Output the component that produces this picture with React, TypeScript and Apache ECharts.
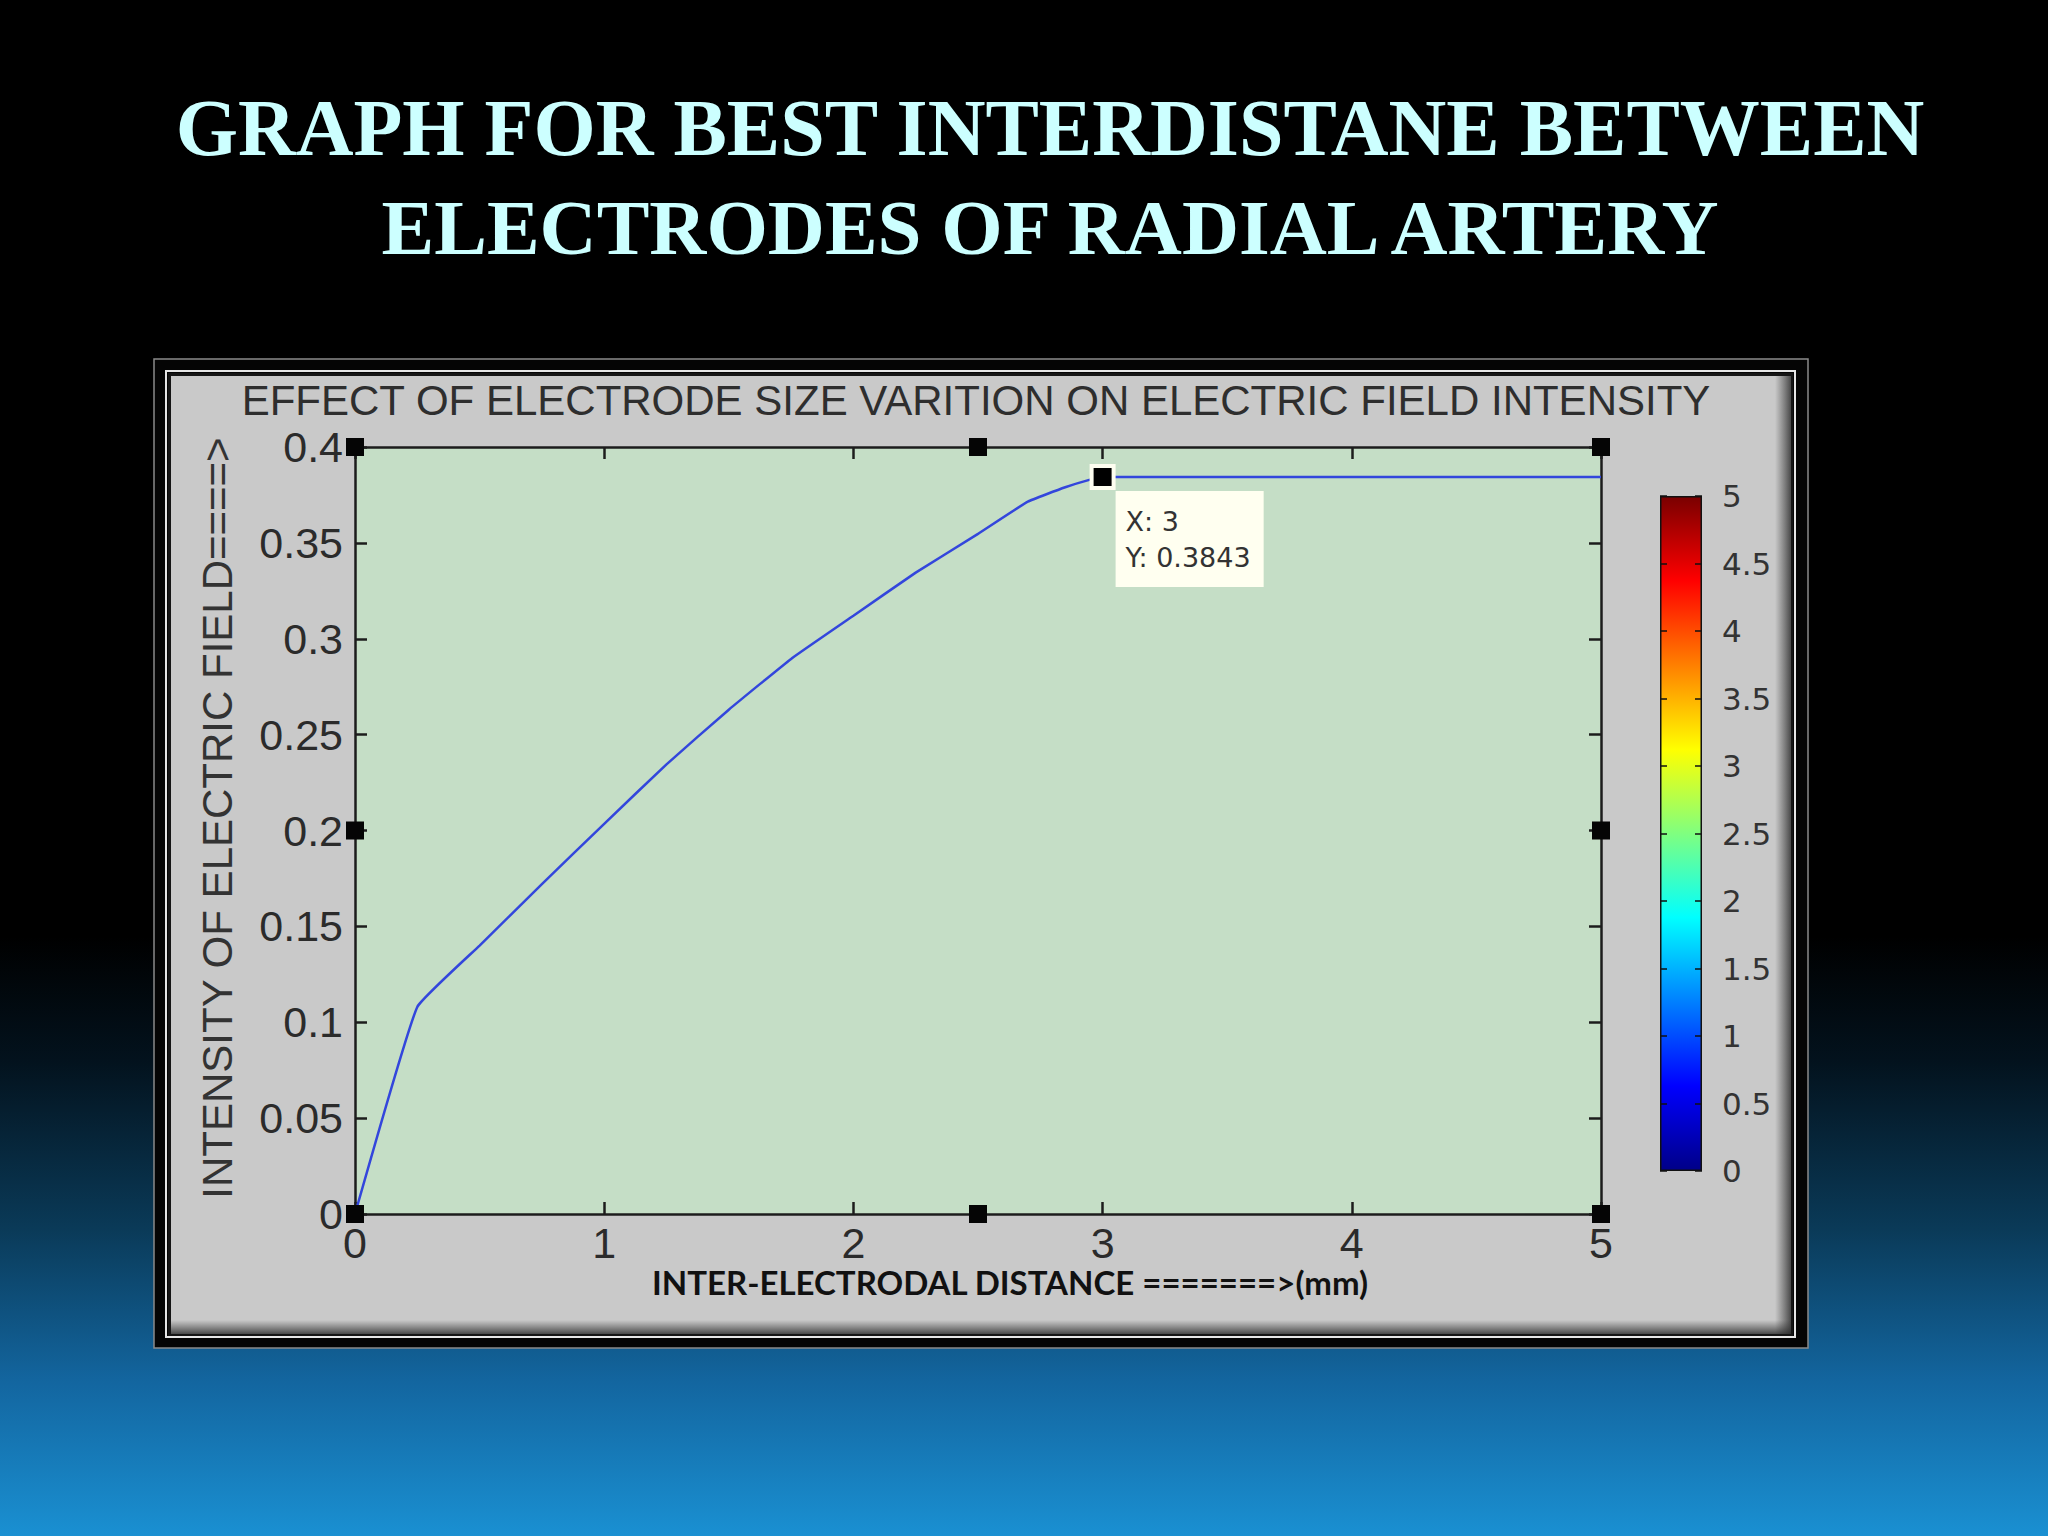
import React, { useEffect, useRef } from "react";
import * as echarts from "echarts";

// ---- data ----
const distanceMm = [0, 0.25, 0.5, 0.75, 1, 1.25, 1.5, 1.75, 2, 2.25, 2.5, 2.7, 2.85, 2.95, 3, 4, 5];
const fieldIntensity = [0, 0.108, 0.14, 0.172, 0.2035, 0.2345, 0.263, 0.2895, 0.312, 0.3345, 0.3547, 0.3715, 0.379, 0.383, 0.3843, 0.3843, 0.3843];
const cursorPoint = [3, 0.3843];
const handlePoints = [
  [0, 0.4], [2.5, 0.4], [5, 0.4],
  [0, 0.2], [5, 0.2],
  [0, 0], [2.5, 0], [5, 0],
];
const colorbarMax = [5];
const jetStops = [
  { offset: 0, color: "#000088" },
  { offset: 0.125, color: "#0000ff" },
  { offset: 0.375, color: "#00ffff" },
  { offset: 0.625, color: "#ffff00" },
  { offset: 0.875, color: "#ff0000" },
  { offset: 1, color: "#7a0000" },
];
const slideTitle = ["GRAPH FOR BEST INTERDISTANE BETWEEN", "ELECTRODES OF RADIAL ARTERY"];
const chartTitle = "EFFECT OF ELECTRODE SIZE VARITION ON ELECTRIC FIELD INTENSITY";
const yName = "INTENSITY OF ELECTRIC FIELD====>";
const xName = "INTER-ELECTRODAL DISTANCE =======>(mm)";

export default function App() {
  const ref = useRef<HTMLDivElement>(null);
  useEffect(() => {
    if (!ref.current) return;
    const chart = echarts.init(ref.current, undefined, { renderer: "svg" });
    const axisCol = "#1c1c1c";
    const labelCol = "#2b2b2b";
    const sans = "Liberation Sans";
    const mainAxisLine = { show: true, onZero: false, lineStyle: { color: axisCol, width: 2.5 } };
    const mainTick = { show: true, inside: true, length: 12, lineStyle: { color: axisCol, width: 2.5 } };
    const cbTick = { show: true, inside: true, length: 7, lineStyle: { color: "#111", width: 1.5 } };

    const option: any = {
      animation: false,
      title: {
        text: chartTitle,
        left: 971,
        top: 374,
        textAlign: "center",
        textStyle: { fontSize: 42, fontWeight: "normal", color: "#2e2e2e", fontFamily: sans },
      },
      grid: [
        { left: 355, top: 447, width: 1246, height: 767, show: true, backgroundColor: "#c5dec6", borderWidth: 0 },
        { left: 1660, top: 496, width: 42, height: 675 },
      ],
      xAxis: [
        {
          gridIndex: 0, type: "value", min: 0, max: 5, interval: 1, position: "bottom",
          axisLine: mainAxisLine, axisTick: mainTick, splitLine: { show: false },
          axisLabel: { fontSize: 43, color: labelCol, margin: 7, fontFamily: sans },
        },
        {
          gridIndex: 0, type: "value", min: 0, max: 5, interval: 1, position: "top",
          axisLine: mainAxisLine, axisTick: mainTick, splitLine: { show: false }, axisLabel: { show: false },
        },
        { gridIndex: 1, type: "category", data: ["colorbar"], show: false },
      ],
      yAxis: [
        {
          gridIndex: 0, type: "value", min: 0, max: 0.4, interval: 0.05, position: "left",
          axisLine: mainAxisLine, axisTick: mainTick, splitLine: { show: false },
          axisLabel: { fontSize: 43, color: labelCol, margin: 12, fontFamily: sans },
        },
        {
          gridIndex: 0, type: "value", min: 0, max: 0.4, interval: 0.05, position: "right",
          axisLine: mainAxisLine, axisTick: mainTick, splitLine: { show: false }, axisLabel: { show: false },
        },
        {
          gridIndex: 1, type: "value", min: 0, max: 5, interval: 0.5, position: "right", z: 5,
          axisLine: { show: false, onZero: false }, axisTick: cbTick, splitLine: { show: false },
          axisLabel: { fontSize: 31, color: "#333", margin: 20, fontFamily: "DejaVu Sans" },
        },
        {
          gridIndex: 1, type: "value", min: 0, max: 5, interval: 0.5, position: "left", z: 5,
          axisLine: { show: false, onZero: false }, axisTick: cbTick, splitLine: { show: false }, axisLabel: { show: false },
        },
      ],
      series: [
        {
          type: "line",
          xAxisIndex: 0, yAxisIndex: 0,
          data: distanceMm.map((d, i) => [d, fieldIntensity[i]]),
          showSymbol: false, symbol: "none",
          smooth: 0.1,
          lineStyle: { color: "#3346dc", width: 2.5 },
          z: 3,
        },
        {
          type: "scatter",
          xAxisIndex: 0, yAxisIndex: 0,
          data: handlePoints,
          symbol: "rect", symbolSize: 18, clip: false,
          itemStyle: { color: "#050505", opacity: 1 },
          z: 6,
        },
        {
          type: "scatter",
          xAxisIndex: 0, yAxisIndex: 0,
          data: [cursorPoint],
          symbol: "rect", symbolSize: 22, clip: false,
          itemStyle: { color: "#000", borderColor: "#fdfdf0", borderWidth: 4, opacity: 1 },
          label: {
            show: true,
            position: [26, 27],
            formatter: (p: any) => `X: ${p.value[0]}\nY: ${p.value[1]}`,
            fontFamily: "DejaVu Sans", fontSize: 27, lineHeight: 36, color: "#333",
            backgroundColor: "#fffff0",
            padding: [12, 13, 12, 10],
            align: "left", verticalAlign: "top",
          },
          z: 7,
        },
        {
          type: "bar",
          xAxisIndex: 2, yAxisIndex: 2,
          data: colorbarMax,
          barWidth: "100%",
          itemStyle: {
            color: new echarts.graphic.LinearGradient(0, 1, 0, 0, jetStops),
            borderColor: "#111", borderWidth: 1.5,
          },
          z: 2,
        },
      ],
      graphic: [
        {
          type: "rect", z: -10, silent: true,
          shape: { x: 154, y: 359, width: 1654, height: 989 },
          style: { fill: "#050505", stroke: "#8a8a8a", lineWidth: 1.5 },
        },
        {
          type: "rect", z: -9, silent: true,
          shape: { x: 166, y: 371, width: 1629, height: 966 },
          style: { fill: "none", stroke: "#e6e6e6", lineWidth: 2 },
        },
        {
          type: "rect", z: -9, silent: true,
          shape: { x: 168, y: 373, width: 1625, height: 963 },
          style: { fill: "#151515" },
        },
        {
          type: "rect", z: -8, silent: true,
          shape: { x: 171, y: 376, width: 1620, height: 958 },
          style: { fill: "#c9c9c9" },
        },
        {
          type: "rect", z: -7, silent: true,
          shape: { x: 1775, y: 376, width: 16, height: 958 },
          style: {
            fill: new echarts.graphic.LinearGradient(0, 0, 1, 0, [
              { offset: 0, color: "rgba(60,60,60,0)" },
              { offset: 1, color: "rgba(40,40,40,0.8)" },
            ]),
          },
        },
        {
          type: "rect", z: -7, silent: true,
          shape: { x: 171, y: 1320, width: 1620, height: 14 },
          style: {
            fill: new echarts.graphic.LinearGradient(0, 0, 0, 1, [
              { offset: 0, color: "rgba(60,60,60,0)" },
              { offset: 1, color: "rgba(40,40,40,0.8)" },
            ]),
          },
        },
        {
          type: "text", z: 20, silent: true,
          x: 1050, y: 128,
          style: {
            text: slideTitle[0], fill: "#ccffff", fontFamily: "Liberation Serif",
            fontWeight: "bold", fontSize: 80, align: "center", verticalAlign: "middle",
          },
        },
        {
          type: "text", z: 20, silent: true,
          x: 1050, y: 227,
          style: {
            text: slideTitle[1], fill: "#ccffff", fontFamily: "Liberation Serif",
            fontWeight: "bold", fontSize: 79, align: "center", verticalAlign: "middle",
          },
        },
        {
          type: "text", z: 20, silent: true,
          x: 217, y: 818, rotation: Math.PI / 2,
          style: {
            text: yName, fill: "#333", fontFamily: sans,
            fontSize: 42, align: "center", verticalAlign: "middle",
          },
        },
        {
          type: "text", z: 20, silent: true,
          x: 1010, y: 1282,
          style: {
            text: xName, fill: "#111", fontFamily: "Lato",
            fontWeight: "bold", fontSize: 33, align: "center", verticalAlign: "middle",
          },
        },
      ],
    };
    chart.setOption(option);
    return () => chart.dispose();
  }, []);

  return (
    <div
      ref={ref}
      style={{
        position: "fixed",
        left: 0,
        top: 0,
        width: 2048,
        height: 1536,
        background:
          "linear-gradient(to bottom, #000000 0%, #000000 61%, #03121d 69%, #0a3a58 80%, #1366a0 90%, #1a90d2 100%)",
      }}
    />
  );
}
